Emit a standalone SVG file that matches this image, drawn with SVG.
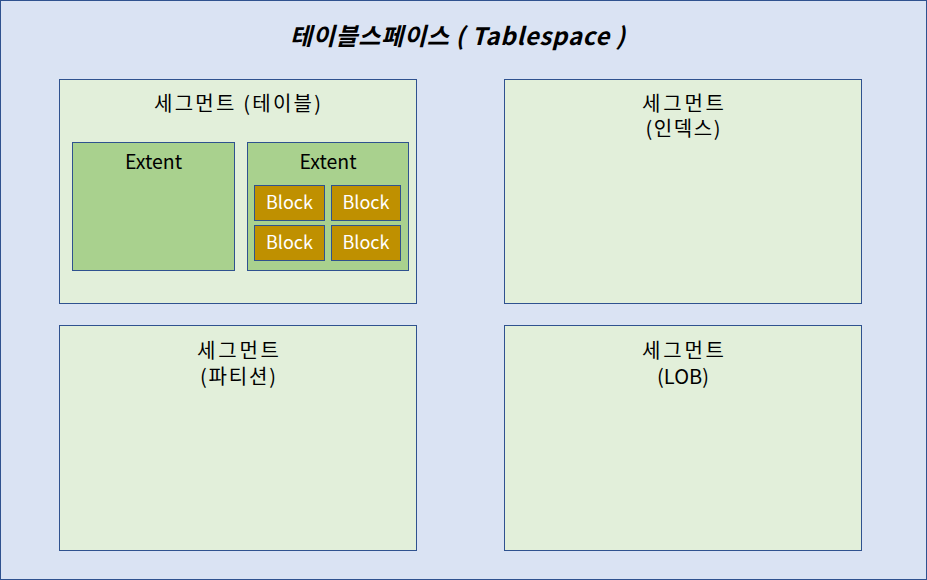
<svg xmlns="http://www.w3.org/2000/svg" width="927" height="580" viewBox="0 0 927 580">
<style>
.bd{stroke:#2F528F;stroke-width:1}
.seg{fill:#E2EFDA}
.ext{fill:#A9D18E}
.blk{fill:#BF9000}
text{font-family:"Noto Sans CJK KR","Malgun Gothic","Noto Sans",sans-serif;text-anchor:middle;fill:#000}
.lbl{font-size:20px}
.ex{font-size:19.5px}
.bt{font-size:18px;fill:#fff}
.ttl{font-size:24px;font-weight:bold;font-style:italic}
</style>
<g id="tablespace">
<rect class="bd" x="0.5" y="0.5" width="926" height="579" fill="#DAE3F3"/>
<text class="ttl" x="457.5" y="45" textLength="335">테이블스페이스 ( Tablespace )</text>
</g>
<g id="seg-table">
<rect class="bd seg" x="59.5" y="79.5" width="357" height="224"/>
<text class="lbl" x="237.5" y="111" textLength="167">세그먼트 (테이블)</text>
</g>
<g id="extent1">
<rect class="bd ext" x="72.5" y="142.5" width="162" height="128"/>
<text class="ex" x="153.5" y="169">Extent</text>
</g>
<g id="extent2">
<rect class="bd ext" x="247.5" y="142.5" width="161" height="128"/>
<text class="ex" x="328" y="169">Extent</text>
</g>
<g id="block1">
<rect class="bd blk" x="254.5" y="185.5" width="70" height="35"/>
<text class="bt" x="289.5" y="209">Block</text>
</g>
<g id="block2">
<rect class="bd blk" x="331.5" y="185.5" width="69" height="35"/>
<text class="bt" x="366" y="209">Block</text>
</g>
<g id="block3">
<rect class="bd blk" x="254.5" y="225.5" width="70" height="35"/>
<text class="bt" x="289.5" y="249">Block</text>
</g>
<g id="block4">
<rect class="bd blk" x="331.5" y="225.5" width="69" height="35"/>
<text class="bt" x="366" y="249">Block</text>
</g>
<g id="seg-index">
<rect class="bd seg" x="504.5" y="79.5" width="357" height="224"/>
<text class="lbl" x="683" y="111" textLength="82">세그먼트</text>
<text class="lbl" x="683" y="136" textLength="75">(인덱스)</text>
</g>
<g id="seg-partition">
<rect class="bd seg" x="59.5" y="325.5" width="357" height="225"/>
<text class="lbl" x="238" y="358" textLength="82">세그먼트</text>
<text class="lbl" x="238" y="384" textLength="76">(파티션)</text>
</g>
<g id="seg-lob">
<rect class="bd seg" x="504.5" y="325.5" width="357" height="225"/>
<text class="lbl" x="683" y="358" textLength="82">세그먼트</text>
<text class="lbl" x="683" y="384">(LOB)</text>
</g>
<g id="connectors"/>
</svg>
